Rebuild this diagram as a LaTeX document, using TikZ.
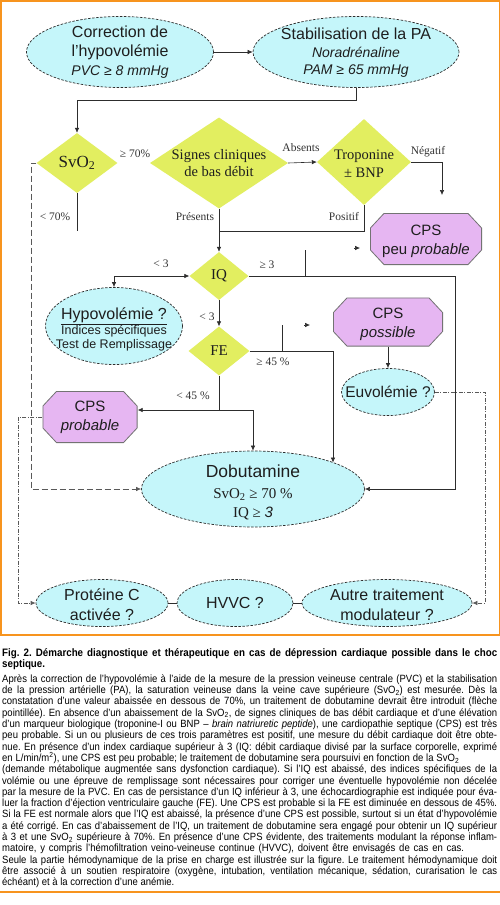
\documentclass[tikz,border=0pt]{standalone}
\usepackage{fontspec}
\setmainfont{Liberation Sans}
\newfontfamily\tnr{Liberation Serif}
\newfontfamily\capfont{Liberation Sans}[FakeStretch=0.905]
\usetikzlibrary{shapes.geometric,arrows.meta,calc}
\definecolor{ecyan}{RGB}{197,246,250}
\definecolor{dyel}{RGB}{226,238,96}
\definecolor{hpur}{RGB}{230,182,242}
\definecolor{lin}{RGB}{45,45,45}
\definecolor{orng}{RGB}{247,148,30}
\definecolor{txtc}{RGB}{30,30,30}
\newcommand\JL[1]{\hbox to 495pt{#1}}
\begin{document}
\begin{tikzpicture}[x=1pt,y=-1pt,
  ell/.style={ellipse, fill=ecyan, draw=lin, dash pattern=on 2.5pt off 1.5pt, line width=0.7pt, inner sep=0pt},
  dia/.style={diamond, fill=dyel, inner sep=0pt},
  hex/.style={rectangle, fill=white, inner sep=0pt, path picture={
     \filldraw[fill=hpur, draw=black!55, line width=0.8pt]
       ([xshift=14pt,yshift=-0.4pt]path picture bounding box.north west) --
       ([xshift=-14pt,yshift=-0.4pt]path picture bounding box.north east) --
       ([xshift=-0.4pt,yshift=-15pt]path picture bounding box.north east) --
       ([xshift=-0.4pt,yshift=15pt]path picture bounding box.south east) --
       ([xshift=-14pt,yshift=0.4pt]path picture bounding box.south east) --
       ([xshift=14pt,yshift=0.4pt]path picture bounding box.south west) --
       ([xshift=0.4pt,yshift=15pt]path picture bounding box.south west) --
       ([xshift=0.4pt,yshift=-15pt]path picture bounding box.north west) -- cycle;}},
  txt/.style={align=center, inner sep=0pt, text=txtc},
  stxt/.style={align=center, inner sep=0pt, text=txtc, font=\tnr\fontsize{14.5}{17}\selectfont},
  lbl/.style={inner sep=0pt, text=black!80, font=\tnr\fontsize{11.5}{13}\selectfont},
  ln/.style={draw=lin, line width=0.6pt},
  arr/.style={draw=lin, line width=0.6pt, -{Latex[length=5pt,width=4.5pt]}},
  darr/.style={draw=lin, line width=0.6pt, {Latex[length=5pt,width=4.5pt]}-{Latex[length=5pt,width=4.5pt]}},
  dsh1/.style={draw=black!65, line width=0.7pt, dash pattern=on 6pt off 3pt, -{Latex[length=5pt,width=4.5pt]}},
  dsh2/.style={draw=black!65, line width=0.7pt, dash pattern=on 4pt off 1.5pt on 1pt off 1.5pt, -{Latex[length=5pt,width=4.5pt]}}
]
\useasboundingbox (0,0) rectangle (500,905);
\fill[white] (0,0) rectangle (500,905);
% orange frame
\draw[orng, line width=1.5pt] (0.75,635) -- (0.75,0.75) -- (499.25,0.75) -- (499.25,635);
\draw[orng, line width=1.5pt] (0,635) -- (500,635);
\draw[orng, line width=1.5pt] (0,892) -- (500,892);

% shapes
\node[ell, minimum width=187pt, minimum height=71pt] (corr) at (120,52) {};
\node[ell, minimum width=206pt, minimum height=71pt] (stab) at (356,52) {};
\node[dia, minimum width=81pt, minimum height=60pt] (svo2) at (77,163) {};
\node[dia, minimum width=138pt, minimum height=91pt] (signes) at (219,163) {};
\node[dia, minimum width=94pt, minimum height=86pt] (tropo) at (364,162) {};
\node[hex, minimum width=112pt, minimum height=52pt] (cpspeu) at (426,239) {};
\node[dia, minimum width=59pt, minimum height=48pt] (iq) at (219,276) {};
\node[ell, minimum width=137pt, minimum height=77pt] (hypo) at (114,326) {};
\node[dia, minimum width=61pt, minimum height=49pt] (fe) at (219,351) {};
\node[hex, minimum width=110pt, minimum height=49pt] (cpsposs) at (388,322) {};
\node[ell, minimum width=93pt, minimum height=47pt] (euvo) at (388,392) {};
\node[hex, minimum width=95pt, minimum height=52pt] (cpsprob) at (90,417) {};
\node[ell, minimum width=223pt, minimum height=76pt] (dobu) at (253,489) {};
\node[ell, minimum width=132pt, minimum height=47pt] (prot) at (102,603) {};
\node[ell, minimum width=116pt, minimum height=47pt] (hvvc) at (235,603) {};
\node[ell, minimum width=170pt, minimum height=47pt] (autre) at (387,603) {};

% texts in shapes
\node[txt, font=\fontsize{16}{19}\selectfont] (corr-t) at (corr) {Correction de\\l'hypovolémie\\{\itshape\fontsize{14}{17}\selectfont PVC ≥ 8 mmHg}};
\node[txt, font=\fontsize{16}{19}\selectfont] (stab-t) at (356,53) {Stabilisation de la PA\\[-1pt]{\itshape\fontsize{14}{17}\selectfont Noradrénaline}\\[-2pt]{\itshape\fontsize{14}{17}\selectfont PAM ≥ 65 mmHg}};
\node[stxt, font=\tnr\fontsize{17}{20}\selectfont] (svo2-t) at (svo2) {SvO\textsubscript{2}};
\node[stxt] (signes-t) at (signes) {Signes cliniques\\de bas débit};
\node[stxt, font=\tnr\fontsize{14.5}{18}\selectfont] (tropo-t) at (364,164) {Troponine\\± BNP};
\node[txt, font=\fontsize{15}{19}\selectfont] (cpspeu-t) at (426,241) {CPS\\peu \textit{probable}};
\node[stxt, font=\tnr\fontsize{15}{18}\selectfont] (iq-t) at (iq) {IQ};
\node[txt, font=\fontsize{12.5}{13.5}\selectfont] (hypo-t) at (114,329) {{\fontsize{16}{19}\selectfont\underline{Hypovolémie ?}}\\Indices spécifiques\\Test de Remplissage};
\node[stxt, font=\tnr\fontsize{15}{18}\selectfont] (fe-t) at (fe) {FE};
\node[txt, font=\fontsize{15}{19}\selectfont] (cpsposs-t) at (388,324) {CPS\\\textit{possible}};
\node[txt, font=\fontsize{15.5}{19}\selectfont] (euvo-t) at (euvo) {Euvolémie ?};
\node[txt, font=\fontsize{15}{19}\selectfont] (cpsprob-t) at (90,417) {CPS\\\textit{probable}};
\node[txt, font=\fontsize{17.5}{21}\selectfont] (dobu-t) at (253,492) {Dobutamine\\{\tnr\fontsize{15}{18}\selectfont SvO\textsubscript{2} ≥ 70 \%}\\[-2pt]{\tnr\fontsize{15}{18}\selectfont IQ ≥ {\rmfamily\itshape 3}}};
\node[txt, font=\fontsize{16}{20}\selectfont] (prot-t) at (102,605) {Protéine C\\activée ?};
\node[txt, font=\fontsize{16}{20}\selectfont] (hvvc-t) at (hvvc) {HVVC ?};
\node[txt, font=\fontsize{16}{20}\selectfont] (autre-t) at (387,605) {Autre traitement\\modulateur ?};

% connectors
\coordinate (k1) at (77,100);
\coordinate (k2) at (77,231);
\coordinate (k3) at (442,195);
\coordinate (k4) at (219,231);
\coordinate (k5) at (455,276);
\coordinate (k6) at (305,276);
\coordinate (k7) at (305,250);
\coordinate (k8) at (333,462.5);
\coordinate (k9) at (282,351);
\coordinate (k10) at (282,325);
\coordinate (j5) at (219,410);
\coordinate (k11) at (31,163);
\coordinate (k12) at (18,417);
\coordinate (k13) at (485,392);

\draw[arr] (corr.east) -- (stab.west);
\draw[arr] (stab.south) |- (k1) -- (svo2.north);
\draw[ln] (svo2.south) -- (k2);
\draw[arr] (signes.east) -- (tropo.west);
\draw[arr] (tropo.east) -| (k3);
\draw[ln] (tropo.south) |- (k4);
\draw[arr] (signes.south) -- (iq.north);
\draw[darr] (iq.west) -| (hypo.north);
\draw[arr] (iq.east) -- (k5) |- (dobu.east);
\draw[ln] (k6) -- (k7);
\draw[arr] (354,248) -- (360,248);
\draw[arr] (iq.south) -- (fe.north);
\draw[arr] (fe.east) -| (k8);
\draw[ln] (k9) -- (k10);
\draw[arr] (304,325) -- (310,325);
\draw[arr] (fe.south) -- (j5) -- (cpsprob.east |- j5);
\draw[arr] (j5) -| (dobu.north);
\draw[arr] (cpsposs.south) -- (euvo.north);
\draw[dsh1] (svo2.west) -- (k11) |- (dobu.west);
\draw[dsh2] (cpsprob.west) -- (k12) |- (prot.west);
\draw[dsh2] (euvo.east) -- (k13) |- (autre.east);
\draw[ln] (prot.east) -- (hvvc.west);
\draw[ln] (hvvc.east) -- (autre.west);

% labels
\node[lbl] (l70a) at (135,154) {≥ 70\%};
\node[lbl] (l70b) at (55,217) {< 70\%};
\node[lbl] (labs) at (301,148) {Absents};
\node[lbl] (lneg) at (428,152) {Négatif};
\node[lbl] (lpres) at (195,217) {Présents};
\node[lbl] (lpos) at (344,217) {Positif};
\node[lbl] (liq1) at (161,264) {< 3};
\node[lbl] (liq2) at (267,265) {≥ 3};
\node[lbl] (liq3) at (207,317) {< 3};
\node[lbl] (lfe1) at (273,362) {≥ 45 \%};
\node[lbl] (lfe2) at (193,396) {< 45 \%};

% caption
\node[anchor=base west, inner sep=0pt, text=black] (cap) at (2,656) {\vtop{\frenchspacing\capfont\fontsize{10.5}{11.3}\selectfont
\hbox to 495pt{\bfseries\fontsize{10.8}{12}\selectfont Fig. 2. Démarche diagnostique et thérapeutique en cas de dépression cardiaque possible dans le choc}
\hbox{\bfseries\fontsize{10.8}{12}\selectfont septique.}
\vskip 3.7pt
\JL{Après la correction de l’hypovolémie à l’aide de la mesure de la pression veineuse centrale (PVC) et la stabilisation}
\JL{de la pression artérielle (PA), la saturation veineuse dans la veine cave supérieure (SvO\textsubscript{2}) est mesurée. Dès la}
\JL{constatation d’une valeur abaissée en dessous de 70\%, un traitement de dobutamine devrait être introduit (flèche}
\JL{pointillée). En absence d’un abaissement de la SvO\textsubscript{2}, de signes cliniques de bas débit cardiaque et d’une élévation}
\JL{d’un marqueur biologique (troponine-I ou BNP – \textit{brain natriuretic peptide}), une cardiopathie septique (CPS) est très}
\JL{peu probable. Si un ou plusieurs de ces trois paramètres est positif, une mesure du débit cardiaque doit être obte-}
\JL{nue. En présence d’un index cardiaque supérieur à 3 (IQ: débit cardiaque divisé par la surface corporelle, exprimé}
\hbox to 457pt{en L/min/m\textsuperscript{2}), une CPS est peu probable; le traitement de dobutamine sera poursuivi en fonction de la SvO\textsubscript{2}}
\JL{(demande métabolique augmentée sans dysfonction cardiaque). Si l’IQ est abaissé, des indices spécifiques de la}
\JL{volémie ou une épreuve de remplissage sont nécessaires pour corriger une éventuelle hypovolémie non décelée}
\JL{par la mesure de la PVC. En cas de persistance d’un IQ inférieur à 3, une échocardiographie est indiquée pour éva-}
\JL{luer la fraction d’éjection ventriculaire gauche (FE). Une CPS est probable si la FE est diminuée en dessous de 45\%.}
\JL{Si la FE est normale alors que l’IQ est abaissé, la présence d’une CPS est possible, surtout si un état d’hypovolémie}
\JL{a été corrigé. En cas d’abaissement de l’IQ, un traitement de dobutamine sera engagé pour obtenir un IQ supérieur}
\JL{à 3 et une SvO\textsubscript{2} supérieure à 70\%. En présence d’une CPS évidente, des traitements modulant la réponse inflam-}
\hbox to 462pt{matoire, y compris l’hémofiltration veino-veineuse continue (HVVC), doivent être envisagés de cas en cas.}
\JL{Seule la partie hémodynamique de la prise en charge est illustrée sur la figure. Le traitement hémodynamique doit}
\JL{être associé à un soutien respiratoire (oxygène, intubation, ventilation mécanique, sédation, curarisation le cas}
\hbox{échéant) et à la correction d’une anémie.}
}};
\end{tikzpicture}
\end{document}
